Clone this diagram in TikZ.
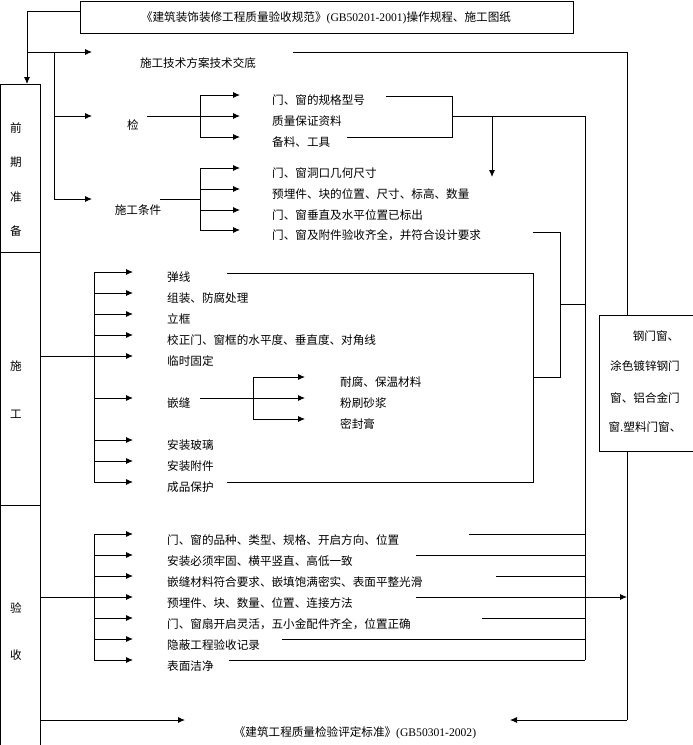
\documentclass[tikz,border=0pt]{standalone}
\usepackage{fontspec}
\setmainfont{Noto Sans CJK SC}
\newfontfamily\latinf{Liberation Serif}
\usetikzlibrary{arrows.meta}
\tikzset{
  ln/.style={draw=black,line width=0.9pt},
  arr/.style={ln,-{Latex[length=7pt,width=6pt]}},
  txt/.style={anchor=west,inner sep=0pt,font=\fontsize{11.6}{13}\selectfont},
  ctxt/.style={inner sep=0pt,font=\fontsize{11.6}{13}\selectfont},
  box/.style={draw=black,line width=0.9pt,inner sep=0pt}
}
\begin{document}
\begin{tikzpicture}[x=1pt,y=-1pt]
\useasboundingbox (0,0) rectangle (693,745);
% top box
\node[box,minimum width=493pt,minimum height=32pt,anchor=north west] (top) at (80,0.5) {};
\node[ctxt] (toptxt) at (326,18) {《建筑装饰装修工程质量验收规范》{\latinf (GB50201-2001)}操作规程、施工图纸};
% left column
\draw[ln] (0.5,84) rectangle (40,745);
\draw[ln] (0.5,252) -- (40,252);
\draw[ln] (0.5,505) -- (40,505);
\foreach \c/\y in {前/128,期/162,准/197,备/231,施/366,工/414,验/608,收/655}
  \node[ctxt] at (16,\y) {\c};
\coordinate (colTop) at (27,84);
\draw[arr] (80,11) -| (colTop);
% preparation
\draw[ln] (27,52) -- (54,52) |- (54,199);
\coordinate (a1) at (92,52);\coordinate (a2) at (92,116);\coordinate (a3) at (92,199);
\draw[arr] (27,52) -- (a1);
\draw[arr] (54,116) -- (a2);
\draw[arr] (54,199) -- (a3);
\node[ctxt] (jd) at (198,63) {施工技术方案技术交底};
\node[ctxt] (jian) at (133,125) {检};
\node[ctxt] (tj) at (138,210) {施工条件};
\draw[ln] (147,116) -- (200,116);
\draw[ln] (200,95) -- (200,137);
\foreach \y/\t in {95/门、窗的规格型号,116/质量保证资料,137/备料、工具}{
  \draw[arr] (200,\y) -- (240,\y);
  \node[txt] at (272,\y+5) {\t};}
\draw[ln] (160,199) -- (200,199);
\draw[ln] (200,168) -- (200,230);
\foreach \y/\t in {168/门、窗洞口几何尺寸,189/预埋件、块的位置、尺寸、标高、数量,210/门、窗垂直及水平位置已标出,230/门、窗及附件验收齐全，并符合设计要求}{
  \draw[arr] (200,\y) -- (240,\y);
  \node[txt] at (272,\y+5) {\t};}
\draw[ln] (386,96) -- (452,96) -- (452,137) -- (347,137);
\draw[ln] (452,116) -- (585,116) -- (585,660);
\draw[arr] (492,116) -- (492,177);
\draw[ln] (533,232) -- (560,232) -- (560,377) -- (533,377);
\draw[ln] (560,304) -- (585,304);
% right box
\node[box,minimum width=94pt,minimum height=136pt,anchor=north west] (rb) at (599,315) {};
\node[ctxt] at (656,336) {钢门窗、};
\node[ctxt] at (645,366) {涂色镀锌钢门};
\node[ctxt] at (645,398) {窗、铝合金门};
\node[ctxt] at (645,427) {窗.塑料门窗、};
\draw[ln] (293,52) -- (627,52) -- (rb.north -| 627,0);
% construction
\draw[ln] (94,272) -- (94,482);
\draw[ln] (40,356) -- (94,356);
\foreach \y/\t in {272/弹线,293/组装、防腐处理,314/立框,335/校正门、窗框的水平度、垂直度、对角线,356/临时固定,398/嵌缝,440/安装玻璃,461/安装附件,482/成品保护}{
  \draw[arr] (94,\y) -- (133,\y);
  \node[txt] at (167,\y+5) {\t};}
\draw[ln] (227,273) -- (533,273) -- (533,482) -- (227,482);
\draw[ln] (200,398) -- (253,398);
\draw[ln] (253,377) -- (253,419);
\foreach \y/\t in {377/耐腐、保温材料,398/粉刷砂浆,419/密封膏}{
  \draw[arr] (253,\y) -- (305,\y);
  \node[txt] at (340,\y+5) {\t};}
% acceptance
\draw[ln] (94,534) -- (94,660);
\draw[ln] (40,597) -- (94,597);
\foreach \y/\t/\e in {534/门、窗的品种、类型、规格、开启方向、位置/469,555/安装必须牢固、横平竖直、高低一致/416,576/嵌缝材料符合要求、嵌填饱满密实、表面平整光滑/496,618/门、窗扇开启灵活，五小金配件齐全，位置正确/482,639/隐蔽工程验收记录/282,660/表面洁净/229,597/预埋件、块、数量、位置、连接方法/585}{
  \draw[arr] (94,\y) -- (133,\y);
  \node[txt] at (167,\y+6) {\t};
  \draw[ln] (\e,\y) -- (585,\y);}
\draw[arr] (416,597) -- (627,597);
\draw[ln] (627,451) -- (627,720);
\coordinate (bl) at (510,720);
\draw[arr] (627,720) -- (bl);
\draw[arr] (40,720) -- (185,720);
\node[ctxt] (bt) at (355,733) {《建筑工程质量检验评定标准》{\latinf (GB50301-2002)}};
\end{tikzpicture}
\end{document}
